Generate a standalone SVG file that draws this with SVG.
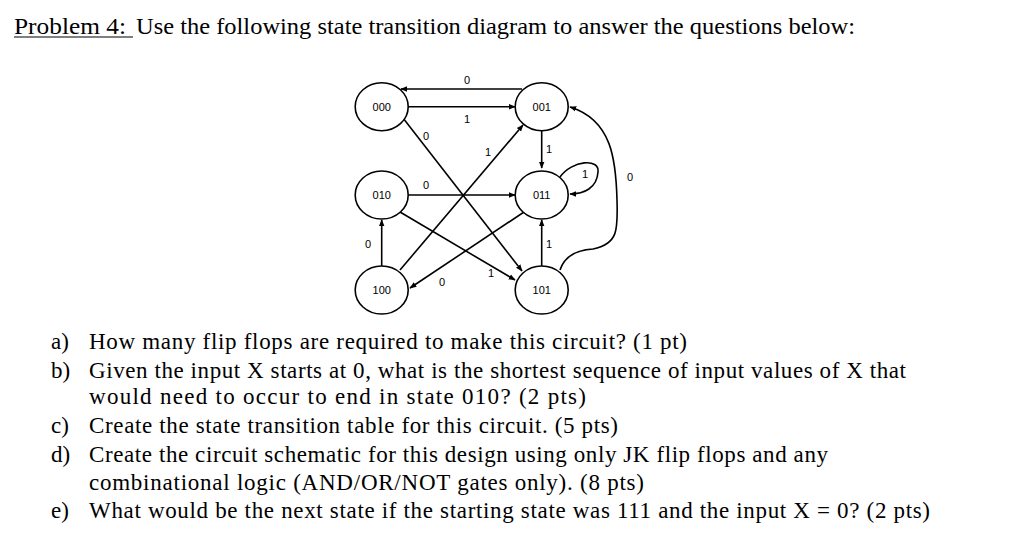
<svg xmlns="http://www.w3.org/2000/svg" width="1024" height="543" viewBox="0 0 1024 543">
<style>
.t{font-family:"Liberation Serif",serif;font-size:23px;fill:#000}
.n ellipse{fill:#fff;stroke:#000;stroke-width:1.6}
.n text,.l{font-family:"Liberation Sans",Arial,sans-serif;font-size:11px;fill:#000;text-anchor:middle}
.e{stroke:#000;stroke-width:1.6;fill:none;marker-end:url(#a)}
</style>
<defs><marker id="a" viewBox="0 0 10 10" refX="9" refY="5" markerWidth="7" markerHeight="7" orient="auto" markerUnits="userSpaceOnUse"><path d="M0,1L10,5L0,9z" fill="#000"/></marker></defs>
<rect width="1024" height="543" fill="#fff"/>
<text class="t" x="14" y="34" textLength="112" lengthAdjust="spacingAndGlyphs">Problem 4:</text>
<text class="t" x="136" y="34" textLength="719" lengthAdjust="spacingAndGlyphs">Use the following state transition diagram to answer the questions below:</text>
<line x1="14" y1="37" x2="133" y2="37" stroke="#000" stroke-width="1.2"/>
<g id="connectors">
<path class="e" d="M522,89H401"/>
<path class="e" d="M408,106.7H515"/>
<path class="e" d="M403,118L522,271"/>
<path class="e" d="M400,270L523,125"/>
<path class="e" d="M541.7,131V168"/>
<path class="e" d="M560,177C572,160 600,158 598,172C597,188 584,194 570,194"/>
<path class="e" d="M408.5,195H515"/>
<path class="e" d="M400,212L515,280"/>
<path class="e" d="M527,210L410,288"/>
<path class="e" d="M381.7,266V220"/>
<path class="e" d="M541.7,266V220"/>
<path class="e" d="M560,270C564,258 575,250 593,249C618,244 618,230 617,200C616,160 612,120 570,107"/>
<text class="l" x="467" y="84">0</text>
<text class="l" x="467" y="123">1</text>
<text class="l" x="426" y="140">0</text>
<text class="l" x="488" y="156">1</text>
<text class="l" x="549" y="153">1</text>
<text class="l" x="585" y="178">1</text>
<text class="l" x="630" y="181">0</text>
<text class="l" x="426" y="189">0</text>
<text class="l" x="368" y="248">0</text>
<text class="l" x="549" y="248">1</text>
<text class="l" x="491" y="277">1</text>
<text class="l" x="442" y="286">0</text>
</g>
<g id="s000" class="n"><ellipse cx="381.7" cy="106.7" rx="26.5" ry="24"/><text x="381.7" y="110.5">000</text></g>
<g id="s001" class="n"><ellipse cx="541.7" cy="106.7" rx="26.5" ry="24"/><text x="541.7" y="110.5">001</text></g>
<g id="s010" class="n"><ellipse cx="381.7" cy="195" rx="26.5" ry="24"/><text x="381.7" y="199">010</text></g>
<g id="s011" class="n"><ellipse cx="541.7" cy="195" rx="26.5" ry="24"/><text x="541.7" y="199">011</text></g>
<g id="s100" class="n"><ellipse cx="381.7" cy="290" rx="26.5" ry="24"/><text x="381.7" y="294">100</text></g>
<g id="s101" class="n"><ellipse cx="541.7" cy="290" rx="26.5" ry="24"/><text x="541.7" y="294">101</text></g>
<text class="t" x="51" y="349">a)</text><text class="t" x="89" y="349" textLength="598">How many flip flops are required to make this circuit?  (1 pt)</text>
<text class="t" x="51" y="378">b)</text><text class="t" x="89" y="378" textLength="817">Given the input X starts at 0, what is the shortest sequence of input values of X that</text>
<text class="t" x="89" y="404" textLength="497">would need to occur to end in state 010?  (2 pts)</text>
<text class="t" x="51" y="433">c)</text><text class="t" x="89" y="433" textLength="529">Create the state transition table for this circuit.  (5 pts)</text>
<text class="t" x="51" y="462">d)</text><text class="t" x="89" y="462" textLength="739">Create the circuit schematic for this design using only JK flip flops and any</text>
<text class="t" x="89" y="490" textLength="555">combinational logic (AND/OR/NOT gates only).  (8 pts)</text>
<text class="t" x="51" y="518">e)</text><text class="t" x="89" y="518" textLength="841">What would be the next state if the starting state was 111 and the input X = 0?  (2 pts)</text>
</svg>
